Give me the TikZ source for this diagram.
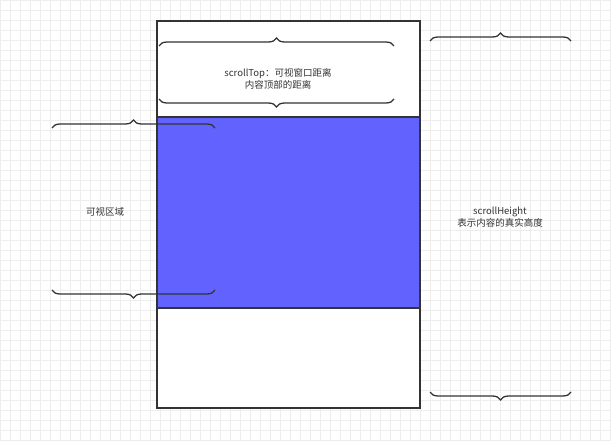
\documentclass[tikz,border=0pt]{standalone}
\usepackage{fontspec}
\setmainfont{Noto Sans CJK SC}
\usetikzlibrary{decorations.pathreplacing}
\definecolor{gridc}{HTML}{EDEDED}
\definecolor{ink}{HTML}{333333}
\definecolor{fillb}{HTML}{6262FF}
\tikzset{
  br/.style={draw=ink,line width=1.3pt,decorate,decoration={brace,amplitude=8pt}},
  lab/.style={text=ink,font=\fontsize{9.5pt}{12pt}\selectfont,align=center,inner sep=0pt},
  box/.style={draw=ink,line width=1.2pt}
}
\begin{document}
\begin{tikzpicture}[x=1pt,y=1pt]
\useasboundingbox (0,0) rectangle (611,440);
\fill[white] (0,0) rectangle (611,440);
\draw[gridc,line width=0.5pt] (0,0) grid[step=10pt] (611,440);
% main box (y = 440 - py)
\draw[box,fill=white] (157,32) rectangle (420,419);
\draw[box,fill=fillb] (157,132) rectangle (420,323);
% top braces
\draw[br] (159,394) -- (394,394);
\draw[br] (394,341) -- (159,341);
\node[lab] (t1) at (278,361) {scrollTop：可视窗口距离\\内容顶部的距离};
% left braces
\draw[br] (52,312) -- (215,312);
\draw[br] (215,150) -- (52,150);
\node[lab] (t2) at (105,228) {可视区域};
% right braces
\draw[br] (430,399) -- (571,399);
\draw[br] (571,48) -- (430,48);
\node[lab] (t3) at (500,223) {scrollHeight\\表示内容的真实高度};
\end{tikzpicture}
\end{document}
